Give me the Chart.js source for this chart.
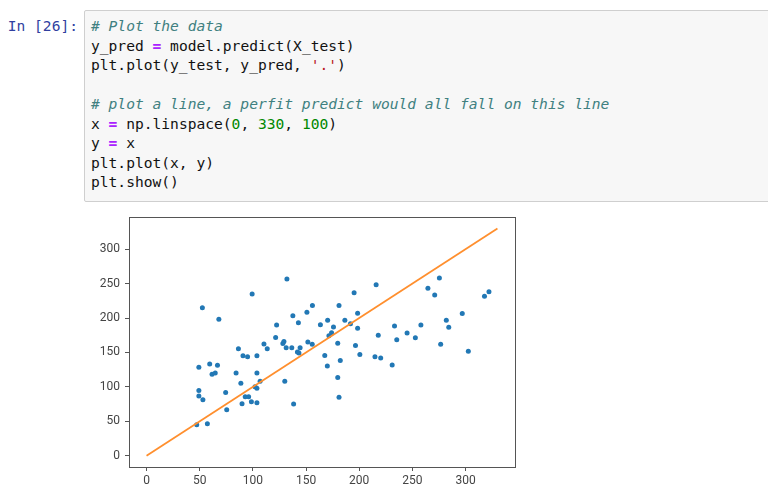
<!DOCTYPE html>
<html>
<head>
<meta charset="utf-8">
<script src="https://cdn.jsdelivr.net/npm/chart.js@4.4.1/dist/chart.umd.min.js"></script>
<style>
  html, body {
    margin: 0;
    padding: 0;
    background: #fff;
    width: 768px;
    height: 496px;
    overflow: hidden;
    position: relative;
  }
  .prompt {
    position: absolute;
    left: 0;
    top: 16px;
    width: 78px;
    text-align: right;
    font: 14.6px/19.5px "DejaVu Sans Mono", monospace;
    color: #303f9f;
    margin: 0;
  }
  .cell {
    position: absolute;
    left: 84px;
    top: 10px;
    width: 700px;
    height: 190px;
    background: #f7f7f7;
    border: 1px solid #cfcfcf;
    border-radius: 2px;
  }
  pre.code {
    position: absolute;
    left: 91px;
    top: 16px;
    margin: 0;
    font: 14.6px/19.5px "DejaVu Sans Mono", monospace;
    color: #111;
  }
  .c { color: #408080; font-style: italic; }
  .o { color: #aa22ff; font-weight: bold; }
  .n { color: #008800; }
  .s { color: #ba2121; }
  #wrap {
    position: absolute;
    left: 80px;
    top: 205px;
    width: 450px;
    height: 291px;
  }
</style>
</head>
<body>
<div class="prompt">In [26]:</div>
<div class="cell"></div>
<pre class="code"><span class="c"># Plot the data</span>
y_pred <span class="o">=</span> model.predict(X_test)
plt.plot(y_test, y_pred, <span class="s">'.'</span>)

<span class="c"># plot a line, a perfit predict would all fall on this line</span>
x <span class="o">=</span> np.linspace(<span class="n">0</span>, <span class="n">330</span>, <span class="n">100</span>)
y <span class="o">=</span> x
plt.plot(x, y)
plt.show()</pre>
<div id="wrap"><canvas id="chart"></canvas></div>
<script>
const yTest = [
  52.5, 68, 99.3, 132, 49.2, 59.4, 66.7, 61.6, 64.6, 49.2,
  49.2, 53, 47.2, 57.2, 74.4, 75.4, 86.4, 90.7, 95, 84.2,
  88.7, 89.8, 92.8, 96, 98.6, 103.8, 103.8, 103.8, 102, 103.8,
  106.8, 110.4, 113.5, 121.4, 122.3, 128.2, 129.2, 131.3, 136.6, 137.6,
  142.8, 144.4, 141.9, 143.3, 150.8, 156, 151.7, 155.8, 130, 138.3,
  163.5, 167.6, 170.3, 170, 175.8, 174, 171.5, 181, 179.8, 182.2,
  179.8, 181, 186.5, 191.8, 195.2, 198.5, 198.5, 196.5, 200.6, 215.9,
  217.9, 214.8, 220.2, 231, 233.2, 235.3, 245, 252.8, 258, 264.6,
  271, 275.4, 276.6, 281.9, 284.2, 296.9, 302.6, 317.8, 322
];
const yPred = [
  215, 198.3, 235, 256.7, 128.6, 133.2, 131.4, 118.2, 120, 94.8,
  86.7, 81.4, 45, 46.5, 91.7, 66.7, 155.3, 145.2, 143.7, 120,
  105.2, 75.3, 85.5, 85.5, 78.2, 76.8, 145.2, 120, 100.2, 98,
  108.2, 162.3, 155.2, 171.7, 190, 163, 166, 156.7, 156.7, 203.4,
  193.3, 156.7, 150.5, 149.3, 208.3, 218.2, 165, 162, 108.2, 74.9,
  190.3, 145.5, 196.7, 130.2, 187, 178.5, 174.3, 218.2, 163.2, 138.3,
  113.4, 85, 196.7, 191.5, 236.7, 206.8, 185, 160.1, 146.8, 248.3,
  175.1, 143.8, 141.8, 131.7, 188.3, 168.3, 178.2, 171.5, 190, 243.2,
  233.3, 258.2, 161.8, 196.7, 186.6, 206.6, 151.6, 231.6, 238.3
];

// perfect-prediction line, endpoints of linspace(0, 330)
const lineX = [0, 330];
const lineY = [0, 330];

const xTicks = [0, 50, 100, 150, 200, 250, 300];
const yTicks = [0, 50, 100, 150, 200, 250, 300];
const axisMin = -16.5;
const axisMax = 346.5;

const spineColor = "#555";

const framePlugin = {
  id: "frame",
  afterDraw(chart) {
    const { ctx, chartArea: a } = chart;
    ctx.save();
    ctx.strokeStyle = spineColor;
    ctx.lineWidth = 1;
    ctx.strokeRect(Math.round(a.left) + 0.5, Math.round(a.top) + 0.5,
      Math.round(a.right - a.left), Math.round(a.bottom - a.top));
    ctx.restore();
  }
};

function setTicks(values) {
  return (scale) => {
    scale.ticks = values.map((v) => ({ value: v }));
  };
}

Chart.defaults.font.family = "Roboto, 'DejaVu Sans', sans-serif";
Chart.defaults.font.size = 12;
Chart.defaults.color = "#444";

new Chart(document.getElementById("chart"), {
  type: "scatter",
  data: {
    datasets: [
      {
        label: "line",
        data: lineX.map((x, i) => ({ x, y: lineY[i] })),
        showLine: true,
        borderColor: "#ff8f2e",
        borderWidth: 1.8,
        pointRadius: 0,
        order: 0
      },
      {
        label: "pred",
        data: yTest.map((x, i) => ({ x, y: yPred[i] })),
        backgroundColor: "#2278b5",
        borderColor: "#2278b5",
        borderWidth: 0,
        pointRadius: 2.5,
        order: 1
      }
    ]
  },
  options: {
    responsive: true,
    maintainAspectRatio: false,
    animation: false,
    layout: {
      padding: { left: 9, top: 10, right: 15, bottom: 0 }
    },
    plugins: {
      legend: { display: false },
      tooltip: { enabled: false }
    },
    scales: {
      x: {
        type: "linear",
        min: axisMin,
        max: axisMax,
        afterBuildTicks: setTicks(xTicks),
        afterFit(scale) { scale.height = 29; },
        grid: {
          drawOnChartArea: false,
          drawTicks: true,
          tickLength: 4,
          color: spineColor
        },
        border: { display: true, color: spineColor, width: 1 },
        ticks: { padding: 3, maxRotation: 0, autoSkip: false }
      },
      y: {
        type: "linear",
        min: axisMin,
        max: axisMax,
        afterBuildTicks: setTicks(yTicks),
        afterFit(scale) { scale.width = 40; },
        grid: {
          drawOnChartArea: false,
          drawTicks: true,
          tickLength: 4,
          color: spineColor
        },
        border: { display: true, color: spineColor, width: 1 },
        ticks: { padding: 5, autoSkip: false }
      }
    }
  },
  plugins: [framePlugin]
});
</script>
</body>
</html>
